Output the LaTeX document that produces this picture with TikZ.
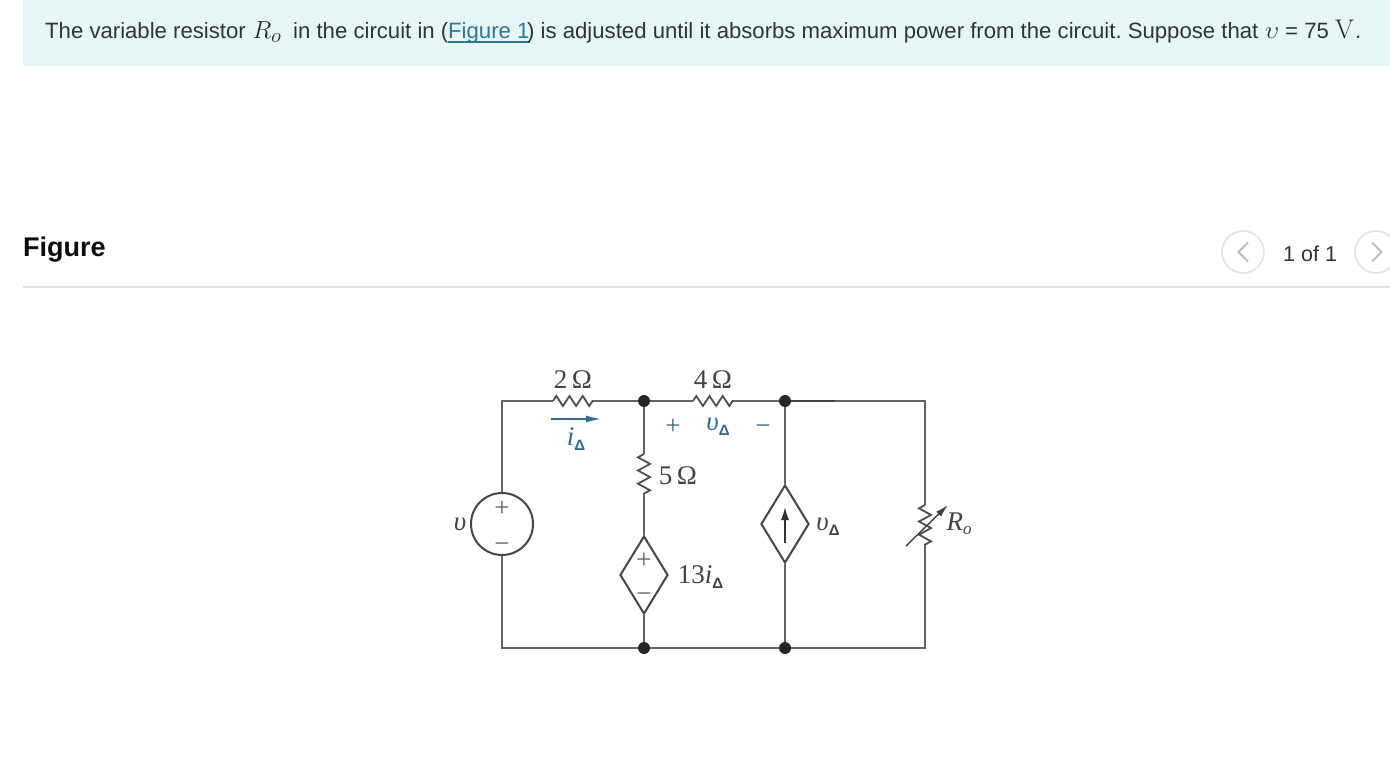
\documentclass[tikz,border=0pt]{standalone}
\usepackage{fontspec}
\setmainfont{Liberation Sans}
\newfontfamily\serfont{Liberation Serif}
\newcommand\lmrfont{\fontfamily{lmr}\selectfont}
\newcommand\dsub{\raisebox{-5pt}{\rmfamily\bfseries\fontsize{15}{16}\selectfont Δ}}
\newcommand\vv{{\itshape υ}}
\usetikzlibrary{shapes.geometric,decorations.pathmorphing,arrows.meta}
\definecolor{wire}{HTML}{636363}
\definecolor{ink}{HTML}{333333}
\definecolor{fig}{HTML}{444444}
\definecolor{blu}{HTML}{2F6A96}
\definecolor{panel}{HTML}{E6F6F6}
\definecolor{ctl}{HTML}{E3E3E3}
\definecolor{chev}{HTML}{BDBDBD}
\definecolor{lnk}{HTML}{2F7596}
\tikzset{
  wireline/.style={draw=wire,line width=1.9pt},
  res/.style={draw=wire!80!black,line width=1.8pt,decorate,decoration={zigzag,segment length=13.2pt,amplitude=5pt}},
  resm/.style={draw=wire!80!black,line width=1.8pt,decorate,decoration={zigzag,segment length=13.2pt,amplitude=6pt,mirror}},
  junction/.style={circle,fill=black!85,draw=none,minimum size=12pt,inner sep=0pt},
  dep/.style={diamond,draw=wire!70!black,line width=2pt,minimum width=48pt,minimum height=78pt,inner sep=0pt,aspect=0.615},
  src/.style={circle,draw=wire!70!black,line width=2pt,minimum size=62pt,inner sep=0pt},
  hdr/.style={anchor=base west,inner sep=0pt,text=ink,font=\fontsize{22.15}{28}\selectfont},
  lab/.style={inner sep=0pt,text=fig,font=\serfont\fontsize{27}{28}\selectfont},
  blab/.style={inner sep=0pt,text=blu,font=\serfont\fontsize{27}{28}\selectfont},
  sign/.style={inner sep=0pt,text=wire,font=\serfont\fontsize{27}{28}\selectfont},
  navc/.style={circle,draw=ctl,line width=1.6pt,minimum size=42pt,inner sep=0pt},
  chevline/.style={draw=chev,line width=1.8pt}
}
\begin{document}
\frenchspacing
\begin{tikzpicture}[x=1pt,y=-1pt]
\useasboundingbox (0,0) rectangle (1390,775);
\fill[white] (0,0) rectangle (1390,775);
% header panel
\fill[panel] (23,0) rectangle (1390,66);
\node[hdr] (t1) at (45,39) {The variable resistor};
\node[hdr,text=black!85,font=\fontsize{27.5}{28}\selectfont] (t2) at (252.5,39) {$R_o$};
\node[hdr] (t3) at (293,39) {in the circuit in (};
\node[hdr,text=lnk] (t4) at (448,39) {Figure 1};
\draw[lnk,line width=1.2pt] ([yshift=-3pt]t4.base west) -- ([yshift=-3pt]t4.base east);
\node[hdr] (t5) at (527,39) {) is adjusted until it absorbs maximum power from the circuit. Suppose that};
\node[hdr,text=black!85,font=\fontsize{26}{28}\selectfont] (t6) at (1265,39) {$\upsilon$};
\node[hdr] (t7) at (1285,39) {= 75};
\node[hdr,text=black!85,font=\lmrfont\fontsize{27}{28}\selectfont] (t8) at (1335,39) {V};
\node[hdr] (t9) at (1355,39) {.};
% figure heading
\node[anchor=base west,inner sep=0pt,font=\bfseries\fontsize{27}{30}\selectfont,text=black!95] (figh) at (23,257) {Figure};
\node[navc] (prev) at (1243,252) {};
\draw[chevline] (1248,242.5) -- (1238.5,252) -- (1248,261.5);
\node[anchor=base west,inner sep=0pt,text=ink,font=\fontsize{21.5}{26}\selectfont] (pg) at (1283,262) {1 of 1};
\node[navc] (next) at (1376,252) {};
\draw[chevline] (1372,242.5) -- (1381.5,252) -- (1372,261.5);
\draw[ctl,line width=1.6pt] (23,287) -- (1390,287);
% circuit anchors
\coordinate (tl) at (502,401);
\coordinate (bl) at (502,648);
\coordinate (tr) at (925,401);
\coordinate (br) at (925,648);
\coordinate (ra1) at (553,401);
\coordinate (ra2) at (593,401);
\coordinate (rb1) at (693,401);
\coordinate (rb2) at (734,401);
\coordinate (rc1) at (644,454);
\coordinate (rc2) at (644,494);
\coordinate (rv1) at (925,505);
\coordinate (rv2) at (925,545);
\coordinate (thick) at (835,401);
\node[junction] (n1) at (644,401) {};
\node[junction] (n2) at (785,401) {};
\node[junction] (n3) at (644,648) {};
\node[junction] (n4) at (785,648) {};
\node[src] (vs) at (502,524) {};
\node[dep] (d1) at (644,575) {};
\node[dep] (d2) at (785,524) {};
% wires
\draw[wireline] (vs.north) -- (tl) -- (ra1);
\draw[res] (ra1) -- (ra2);
\draw[wireline] (ra2) -- (n1) -- (rb1);
\draw[res] (rb1) -- (rb2);
\draw[wireline] (rb2) -- (n2);
\draw[wireline] (n2) -- (tr) -- (rv1);
\draw[wireline,draw=wire!70!black,line width=2.2pt] (n2) -- (thick);
\draw[resm] (rv1) -- (rv2);
\draw[wireline] (rv2) -- (br) -- (n4) -- (n3) -- (bl) -- (vs.south);
\draw[wireline] (n1) -- (rc1);
\draw[resm] (rc1) -- (rc2);
\draw[wireline] (rc2) -- (d1.north);
\draw[wireline] (d1.south) -- (n3);
\draw[wireline] (n2) -- (d2.north);
\draw[wireline] (d2.south) -- (n4);
% arrows
\coordinate (ia1) at (551,419);
\coordinate (ia2) at (601,419);
\draw[blu,line width=1.5pt,-{Latex[length=15pt,width=7pt]}] (ia1) -- (ia2);
\coordinate (da1) at (785,543);
\coordinate (da2) at (785,507);
\draw[black!80,line width=1.4pt,-{Latex[length=13pt,width=8pt]}] (da1) -- (da2);
\coordinate (va1) at (906,546);
\coordinate (va2) at (948,505);
\draw[black!75,line width=1.4pt,-{Latex[length=13pt,width=7pt]}] (va1) -- (va2);
% labels
\node[lab] (l2) at (573,380) {2\,Ω};
\node[lab] (l4) at (713,380) {4\,Ω};
\node[lab] (l5) at (678,476) {5\,Ω};
\node[blab] (lia) at (576,439) {{\itshape i}\dsub};
\node[sign,text=blu] (lp) at (673,427) {+};
\node[blab] (lva) at (718,427) {\vv\dsub};
\node[sign,text=blu] (lm) at (763,430) {−};
\node[lab] (l13) at (700.5,577) {13{\itshape i}\dsub};
\node[lab] (lvd) at (828,527) {\vv\dsub};
\node[lab] (lro) at (959,524) {{\itshape R}\raisebox{-4pt}{\itshape\fontsize{17}{18}\selectfont o}};
\node[lab] (lv) at (460,524) {\vv};
\node[sign] (sp1) at (502,509) {+};
\node[sign] (sm1) at (502,548) {−};
\node[sign] (sp2) at (644,561) {+};
\node[sign] (sm2) at (644,598) {−};
\end{tikzpicture}
\end{document}
